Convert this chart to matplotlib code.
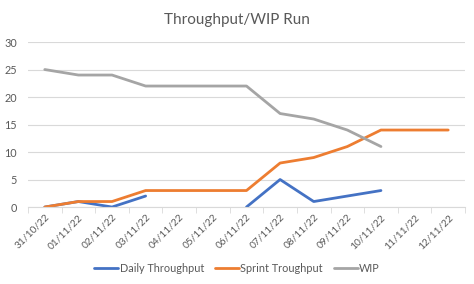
import numpy as np
import matplotlib.pyplot as plt

plt.rcParams['font.family'] = ['Lato', 'DejaVu Sans']

# データ
dates = ['31/10/22', '01/11/22', '02/11/22', '03/11/22', '04/11/22', '05/11/22', '06/11/22',
         '07/11/22', '08/11/22', '09/11/22', '10/11/22', '11/11/22', '12/11/22']
daily = [0, 1, 0, 2, np.nan, np.nan, 0, 5, 1, 2, 3, np.nan, np.nan]
sprint = [0, 1, 1, 3, 3, 3, 3, 8, 9, 11, 14, 14, 14]
wip = [25, 24, 24, 22, 22, 22, 22, 17, 16, 14, 11, np.nan, np.nan]

x = np.arange(len(dates))

fig = plt.figure(figsize=(4.74, 2.84), dpi=100)
ax = fig.add_axes([0.059, 0.271, 0.922, 0.581])

ax.plot(x, daily, color='#4472C4', lw=2.0, label='Daily Throughput', solid_capstyle='round')
ax.plot(x, sprint, color='#ED7D31', lw=2.0, label='Sprint Troughput', solid_capstyle='round')
ax.plot(x, wip, color='#A5A5A5', lw=2.0, label='WIP', solid_capstyle='round')

ax.set_xlim(-0.5, len(dates) - 0.5)
ax.set_ylim(0, 30)
ax.set_yticks(range(0, 31, 5))
ax.grid(axis='y', color='#D9D9D9', lw=0.8)
ax.set_axisbelow(True)

ax.set_xticks(x)
ax.set_xticklabels(dates, rotation=45, ha='right', rotation_mode='anchor', fontsize=7.3, color='#595959')
ax.set_xticks(np.arange(-0.5, len(dates)), minor=True)
ax.tick_params(axis='x', which='major', length=0, pad=4)
ax.tick_params(axis='x', which='minor', length=4, color='#D9D9D9')
ax.tick_params(axis='y', length=0, labelsize=7.8, labelcolor='#595959', pad=8)

for s in ['top', 'right', 'left']:
    ax.spines[s].set_visible(False)
ax.spines['bottom'].set_color('#D9D9D9')

fig.suptitle('Throughput/WIP Run', y=0.955, fontsize=11, color='#595959')
fig.legend(loc='lower center', bbox_to_anchor=(0.5, 0.0), ncol=3, frameon=False,
           fontsize=7.8, labelcolor='#595959', handlelength=2.2, handletextpad=0.15,
           columnspacing=1.0)

plt.savefig('out.png', dpi=100)
